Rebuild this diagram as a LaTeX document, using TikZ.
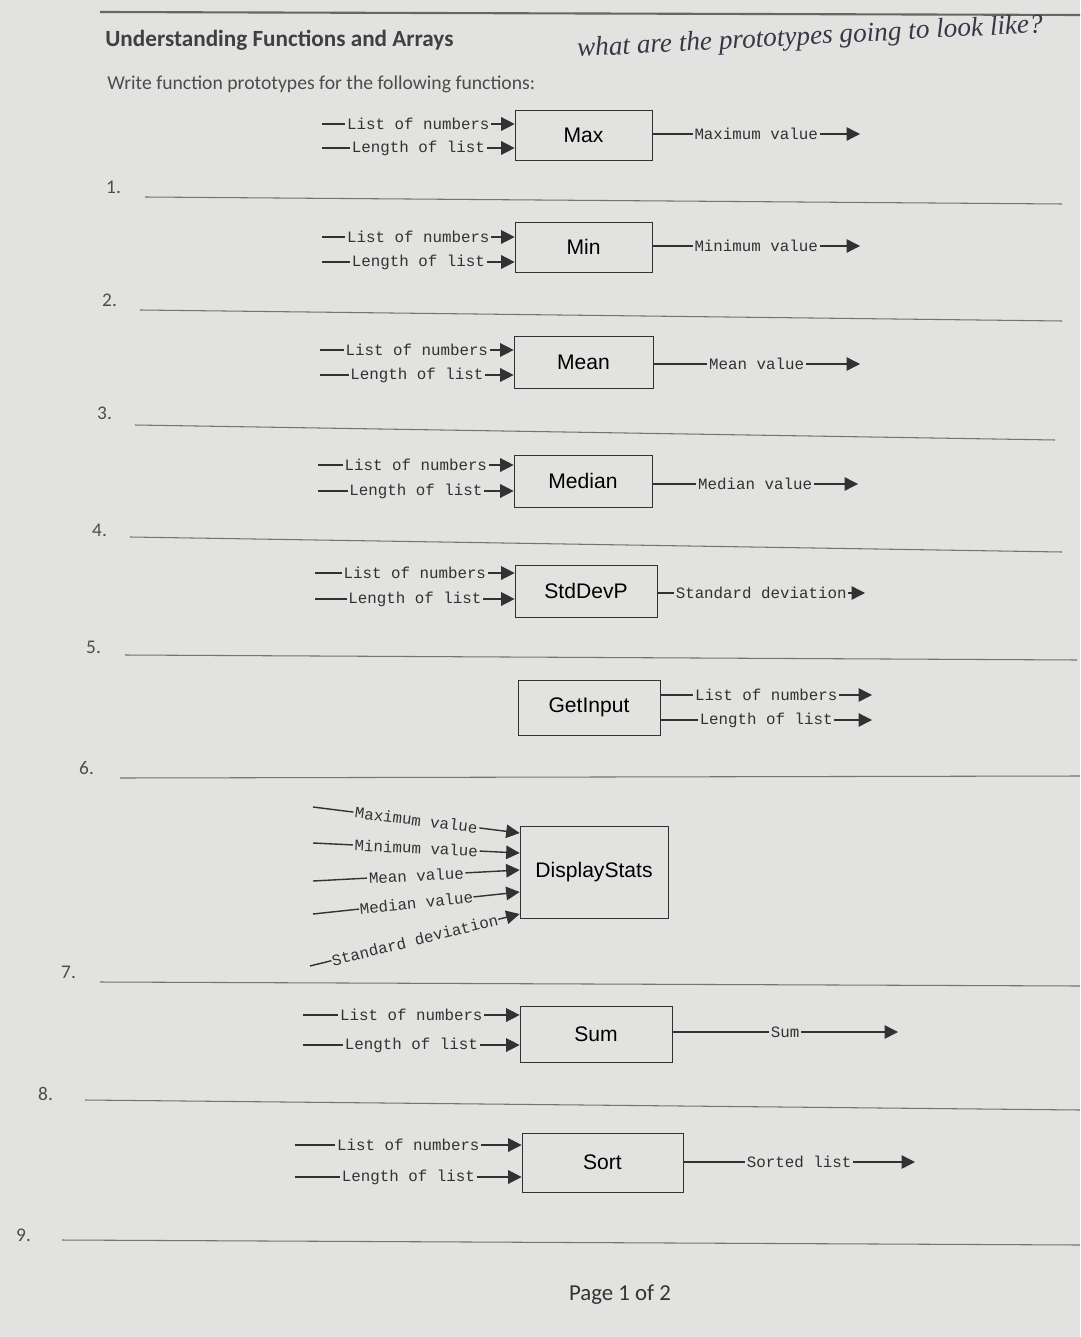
\documentclass[tikz,border=0pt]{standalone}
\usepackage{fontspec}
\setmainfont{Carlito}
\newfontfamily\monofont{Liberation Mono}
\newfontfamily\boxfont{Liberation Sans}
\newfontfamily\handfont{Liberation Serif}
\usetikzlibrary{arrows.meta}
\definecolor{paper}{RGB}{226,226,224}
\definecolor{ink}{RGB}{50,50,50}
\definecolor{pen}{RGB}{55,55,70}
\tikzset{
	fnbox/.style={draw=ink, fill=paper, font=\boxfont\fontsize{12}{14}\selectfont, inner sep=0pt},
	flow/.style={draw=ink, line width=0.8pt, -{Triangle[length=2.7mm,width=2.7mm]}},
	lbl/.style={font=\monofont\fontsize{9}{10}\selectfont, fill=paper, text=ink, inner sep=1pt},
	rule/.style={draw=black!55, line width=0.6pt},
	num/.style={anchor=west, font=\fontsize{11}{13}\selectfont, text=black!70},
}

\begin{document}
\begin{tikzpicture}[x=0.02cm, y=-0.02cm]
		%%%%% PAGE %%%%%
		\fill[paper] (0,0) rectangle (1080,1337);
		\useasboundingbox (0,0) rectangle (1080,1337);
		\draw[black!60, line width=1.2pt] (100,12) -- (1080,15);
		
		\node[anchor=west, inner sep=0pt, font=\bfseries\fontsize{13.2}{15}\selectfont, text=black!75] (title) at (105,40) {Understanding Functions and Arrays};
		\node[font=\handfont\itshape\fontsize{15.5}{17}\selectfont, text=pen, rotate=3] (note) at (810,38) {what are the prototypes going to look like?};
		\node[anchor=west, inner sep=0pt, font=\fontsize{11.2}{13}\selectfont, text=black!70] (task) at (107,84) {Write function prototypes for the following functions:};
		
		%%%%% 1. MAX %%%%%
		\node[fnbox, minimum width=2.74cm, minimum height=1cm] (max) at (583.5,135) {Max};
		\coordinate (maxin1) at (322,124);
		\coordinate (maxin2) at (322,148);
		\coordinate (maxout) at (860,134);
		\draw[flow] (maxin1) -- node[lbl]{List of numbers} (maxin1 -| max.west);
		\draw[flow] (maxin2) -- node[lbl]{Length of list} (maxin2 -| max.west);
		\draw[flow] (max.east |- maxout) -- node[lbl]{Maximum value} (maxout);
		\node[num] (n1) at (100,187) {1.};
		\draw[rule] (145,197) -- (1062,204);
		
		%%%%% 2. MIN %%%%%
		\node[fnbox, minimum width=2.74cm, minimum height=1cm] (min) at (583.5,247) {Min};
		\coordinate (minin1) at (322,237);
		\coordinate (minin2) at (322,262);
		\coordinate (minout) at (860,246);
		\draw[flow] (minin1) -- node[lbl]{List of numbers} (minin1 -| min.west);
		\draw[flow] (minin2) -- node[lbl]{Length of list} (minin2 -| min.west);
		\draw[flow] (min.east |- minout) -- node[lbl]{Minimum value} (minout);
		\node[num] (n2) at (96,300) {2.};
		\draw[rule] (140,310) -- (1062,321);
		
		%%%%% 3. MEAN %%%%%
		\node[fnbox, minimum width=2.78cm, minimum height=1.04cm] (mean) at (583.5,362) {Mean};
		\coordinate (meanin1) at (320,350);
		\coordinate (meanin2) at (320,375);
		\coordinate (meanout) at (860,364);
		\draw[flow] (meanin1) -- node[lbl]{List of numbers} (meanin1 -| mean.west);
		\draw[flow] (meanin2) -- node[lbl]{Length of list} (meanin2 -| mean.west);
		\draw[flow] (mean.east |- meanout) -- node[lbl]{Mean value} (meanout);
		\node[num] (n3) at (91,413) {3.};
		\draw[rule] (135,425) -- (1055,440);
		
		%%%%% 4. MEDIAN %%%%%
		\node[fnbox, minimum width=2.76cm, minimum height=1.04cm] (median) at (583,481) {Median};
		\coordinate (medin1) at (318,465);
		\coordinate (medin2) at (318,491);
		\coordinate (medout) at (858,484);
		\draw[flow] (medin1) -- node[lbl]{List of numbers} (medin1 -| median.west);
		\draw[flow] (medin2) -- node[lbl]{Length of list} (medin2 -| median.west);
		\draw[flow] (median.east |- medout) -- node[lbl]{Median value} (medout);
		\node[num] (n4) at (86,530) {4.};
		\draw[rule] (130,537) -- (1062,552);
		
		%%%%% 5. STDDEVP %%%%%
		\node[fnbox, minimum width=2.84cm, minimum height=1.04cm] (stddev) at (586,591) {StdDevP};
		\coordinate (sdin1) at (315,573);
		\coordinate (sdin2) at (315,599);
		\coordinate (sdout) at (865,593);
		\draw[flow] (sdin1) -- node[lbl]{List of numbers} (sdin1 -| stddev.west);
		\draw[flow] (sdin2) -- node[lbl]{Length of list} (sdin2 -| stddev.west);
		\draw[flow] (stddev.east |- sdout) -- node[lbl]{Standard deviation} (sdout);
		\node[num] (n5) at (80,647) {5.};
		\draw[rule] (125,655) -- (1077,660);
		
		%%%%% 6. GETINPUT %%%%%
		\node[fnbox, minimum width=2.84cm, minimum height=1.1cm] (getinput) at (589,707.5) {GetInput};
		\coordinate (gout1) at (872,695);
		\coordinate (gout2) at (872,720);
		\draw[flow] (getinput.east |- gout1) -- node[lbl]{List of numbers} (gout1);
		\draw[flow] (getinput.east |- gout2) -- node[lbl]{Length of list} (gout2);
		\node[num] (n6) at (73,768) {6.};
		\draw[rule] (120,778) -- (1080,776);
		
		%%%%% 7. DISPLAYSTATS %%%%%
		\node[fnbox, minimum width=2.96cm, minimum height=1.84cm] (disp) at (594,872) {DisplayStats};
		\coordinate (dsin1) at (313,807);
		\coordinate (dsin2) at (313,843);
		\coordinate (dsin3) at (313,881);
		\coordinate (dsin4) at (313,914);
		\coordinate (dsin5) at (310,966);
		\draw[flow] (dsin1) -- node[lbl, sloped]{Maximum value} ([yshift=0.78cm]disp.west);
		\draw[flow] (dsin2) -- node[lbl, sloped]{Minimum value} ([yshift=0.38cm]disp.west);
		\draw[flow] (dsin3) -- node[lbl, sloped]{Mean value} ([yshift=0.04cm]disp.west);
		\draw[flow] (dsin4) -- node[lbl, sloped, inner sep=0.3pt]{Median value} ([yshift=-0.4cm]disp.west);
		\draw[flow] (dsin5) -- node[lbl, sloped, inner sep=0.3pt, pos=0.5]{Standard deviation} ([yshift=-0.84cm]disp.west);
		\node[num] (n7) at (55,972) {7.};
		\draw[rule] (100,982) -- (1080,986);
		
		%%%%% 8. SUM %%%%%
		\node[fnbox, minimum width=3.04cm, minimum height=1.12cm] (sum) at (596,1034) {Sum};
		\coordinate (sumin1) at (303,1015);
		\coordinate (sumin2) at (303,1045);
		\coordinate (sumout) at (898,1032);
		\draw[flow] (sumin1) -- node[lbl]{List of numbers} (sumin1 -| sum.west);
		\draw[flow] (sumin2) -- node[lbl]{Length of list} (sumin2 -| sum.west);
		\draw[flow] (sum.east |- sumout) -- node[lbl]{Sum} (sumout);
		\node[num] (n8) at (32,1094) {8.};
		\draw[rule] (85,1100) -- (1080,1110);
		
		%%%%% 9. SORT %%%%%
		\node[fnbox, minimum width=3.22cm, minimum height=1.18cm] (sort) at (602.5,1162.5) {Sort};
		\coordinate (sortin1) at (295,1145);
		\coordinate (sortin2) at (295,1177);
		\coordinate (sortout) at (915,1162);
		\draw[flow] (sortin1) -- node[lbl]{List of numbers} (sortin1 -| sort.west);
		\draw[flow] (sortin2) -- node[lbl]{Length of list} (sortin2 -| sort.west);
		\draw[flow] (sort.east |- sortout) -- node[lbl]{Sorted list} (sortout);
		\node[num] (n9) at (10,1235) {9.};
		\draw[rule] (62,1240) -- (1080,1245);
		
		\node[font=\fontsize{13}{15}\selectfont, text=black!80] (page) at (620,1295) {Page 1 of 2};
	\end{tikzpicture}
\end{document}
